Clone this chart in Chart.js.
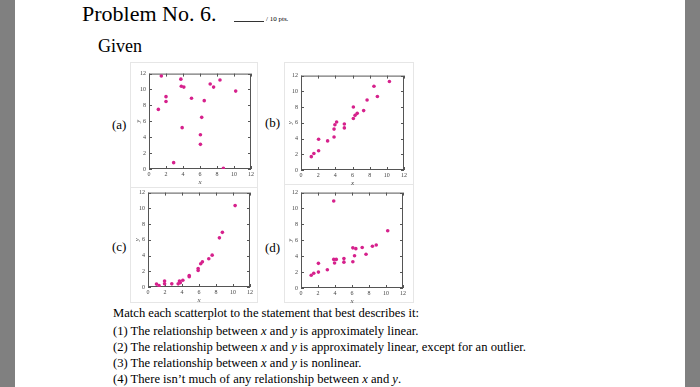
<!DOCTYPE html>
<html>
<head>
<meta charset="utf-8">
<script src="https://cdn.jsdelivr.net/npm/chart.js@4.4.1/dist/chart.umd.min.js"></script>
<style>
  body { margin: 0; width: 700px; height: 387px; background: #fff; position: relative; overflow: hidden;
         font-family: "Liberation Serif", "Times New Roman", serif; color: #000; }
  .side { position: absolute; top: 0; bottom: 0; width: 15px; background: #808080; }
  .abs { position: absolute; white-space: nowrap; }
  .frame { position: absolute; border: 1px solid #e6e6e6; box-sizing: border-box; }
  canvas { position: absolute; }
  .lab { position: absolute; font-size: 13px; line-height: 13px; }
  .q { position: absolute; left: 113px; font-size: 12.6px; line-height: 16px; white-space: nowrap; }
</style>
</head>
<body>
<div class="side" style="left:0"></div>
<div class="side" style="left:685px"></div>

<div class="abs" style="left:82px;top:3px;font-size:22px;line-height:22px">Problem No. 6.</div>
<div class="abs" style="left:234px;top:21px;width:30px;border-top:1px solid #333"></div>
<div class="abs" style="left:266px;top:16px;font-size:7px;line-height:7px">/ 10 pts.</div>
<div class="abs" style="left:98px;top:37px;font-size:18px;line-height:18px">Given</div>

<div class="frame" style="left:130px;top:62px;width:128px;height:126px"></div>
<div class="frame" style="left:284px;top:62px;width:130px;height:123px"></div>
<div class="frame" style="left:130px;top:187px;width:128px;height:116px"></div>
<div class="frame" style="left:284px;top:184px;width:130px;height:119px"></div>

<div class="lab" style="left:112px;top:118px">(a)</div>
<div class="lab" style="left:265px;top:116px">(b)</div>
<div class="lab" style="left:112px;top:240px">(c)</div>
<div class="lab" style="left:265px;top:241px">(d)</div>

<canvas id="ca"></canvas>
<canvas id="cb"></canvas>
<canvas id="cc"></canvas>
<canvas id="cd"></canvas>

<div class="q" style="top:305px">Match each scatterplot to the statement that best describes it:</div>
<div class="q" style="top:323px">(1) The relationship between <i>x</i> and <i>y</i> is approximately linear.</div>
<div class="q" style="top:339px">(2) The relationship between <i>x</i> and <i>y</i> is approximately linear, except for an outlier.</div>
<div class="q" style="top:355px">(3) The relationship between <i>x</i> and <i>y</i> is nonlinear.</div>
<div class="q" style="top:371px">(4) There isn’t much of any relationship between <i>x</i> and <i>y</i>.</div>

<script>
// tick values shared by every panel
const xTicks = [0, 2, 4, 6, 8, 10, 12];
const yTicks = [0, 2, 4, 6, 8, 10, 12];

// (a) no relationship
const aX = [1.1, 1.45, 2.0, 2.0, 2.9, 3.75, 3.8, 3.9, 4.1, 5.0, 6.05, 6.05, 6.2, 6.5, 7.2, 7.6, 8.35, 8.75, 10.2];
const aY = [7.5, 11.7, 9.1, 8.5, 0.8, 11.3, 10.4, 5.2, 10.3, 8.9, 4.3, 3.1, 6.5, 8.6, 10.7, 10.3, 11.2, 0.1, 9.8];

// (b) linear
const bX = [1.2, 1.5, 2.05, 2.05, 3.1, 3.85, 3.85, 3.95, 4.15, 5.05, 5.05, 6.1, 6.1, 6.3, 6.55, 7.3, 7.7, 8.5, 8.9, 10.3];
const bY = [1.7, 2.1, 3.9, 2.45, 3.7, 4.2, 5.2, 5.75, 6.1, 5.85, 5.35, 8.0, 6.55, 6.95, 7.2, 7.55, 8.9, 10.65, 9.35, 11.25];

// (c) nonlinear
const cX = [1.0, 1.3, 1.95, 1.95, 2.8, 3.55, 3.7, 3.8, 4.1, 4.85, 4.85, 5.9, 5.9, 6.2, 6.4, 7.15, 7.55, 8.4, 8.75, 10.25];
const cY = [0.37, 0.17, 0.75, 0.4, 0.4, 0.4, 0.75, 0.55, 0.85, 1.3, 1.45, 2.35, 2.1, 2.95, 3.2, 3.6, 4.05, 6.25, 6.95, 10.35];

// (d) linear with one outlier
const dX = [1.2, 1.5, 2.05, 2.05, 3.1, 3.85, 3.85, 3.95, 4.15, 5.05, 5.05, 6.1, 6.1, 6.3, 6.45, 7.2, 7.65, 8.4, 8.85, 10.2];
const dY = [1.6, 1.85, 2.0, 3.1, 2.3, 10.95, 3.6, 3.15, 3.6, 3.7, 3.25, 5.05, 3.3, 4.05, 4.95, 5.1, 4.25, 5.25, 5.4, 7.2];

const pink = '#d6218c';

// box round the plot with small inward ticks on all four sides
const frameTicks = {
  id: 'frameTicks',
  beforeDatasetsDraw(chart) {
    const { ctx, chartArea: a, scales: { x, y } } = chart;
    ctx.save();
    ctx.strokeStyle = '#555';
    ctx.lineWidth = 1;
    ctx.strokeRect(a.left + 0.5, a.top + 0.5, a.width - 1, a.height - 1);
    ctx.beginPath();
    xTicks.forEach(v => {
      const p = Math.round(x.getPixelForValue(v)) + 0.5;
      ctx.moveTo(p, a.bottom); ctx.lineTo(p, a.bottom - 3);
      ctx.moveTo(p, a.top); ctx.lineTo(p, a.top + 3);
    });
    yTicks.forEach(v => {
      const p = Math.round(y.getPixelForValue(v)) + 0.5;
      ctx.moveTo(a.left, p); ctx.lineTo(a.left + 3, p);
      ctx.moveTo(a.right, p); ctx.lineTo(a.right - 3, p);
    });
    ctx.stroke();
    ctx.restore();
  }
};

function makePlot(id, xs, ys, left, top, w, h) {
  const yW = 15, padT = 5, padR = 5, xH = 17;
  const cv = document.getElementById(id);
  cv.width = yW + w + padR;
  cv.height = padT + h + xH;
  cv.style.left = (left - yW) + 'px';
  cv.style.top = (top - padT) + 'px';

  const tickFont = { family: '"Liberation Serif", serif', size: 6 };
  const titleFont = { family: '"Liberation Serif", serif', size: 7, style: 'italic' };

  new Chart(cv, {
    type: 'scatter',
    data: {
      datasets: [{
        data: xs.map((v, i) => ({ x: v, y: ys[i] })),
        backgroundColor: pink,
        borderWidth: 0,
        pointRadius: 1.8
      }]
    },
    options: {
      responsive: false,
      animation: false,
      layout: { padding: { top: padT, right: padR, left: 0, bottom: 0 } },
      plugins: { legend: { display: false }, tooltip: { enabled: false } },
      scales: {
        x: {
          type: 'linear', min: 0, max: 12,
          afterBuildTicks: s => { s.ticks = xTicks.map(v => ({ value: v })); },
          afterFit: s => { s.height = xH; },
          grid: { display: false, drawTicks: false }, border: { display: false },
          ticks: { font: tickFont, color: '#444', padding: 2, maxRotation: 0 },
          title: { display: true, text: 'x', font: titleFont, color: '#444', padding: 0 }
        },
        y: {
          type: 'linear', min: 0, max: 12,
          afterBuildTicks: s => { s.ticks = yTicks.map(v => ({ value: v })); },
          afterFit: s => { s.width = yW; },
          grid: { display: false, drawTicks: false }, border: { display: false },
          ticks: { font: tickFont, color: '#444', padding: 3 },
          title: { display: true, text: 'y', font: titleFont, color: '#444', padding: 0 }
        }
      }
    },
    plugins: [frameTicks]
  });
}

makePlot('ca', aX, aY, 149, 72, 102, 97);
makePlot('cb', bX, bY, 301, 74, 103, 96);
makePlot('cc', cX, cY, 148, 191, 102, 96);
makePlot('cd', dX, dY, 301, 191, 102, 97);
</script>
</body>
</html>
